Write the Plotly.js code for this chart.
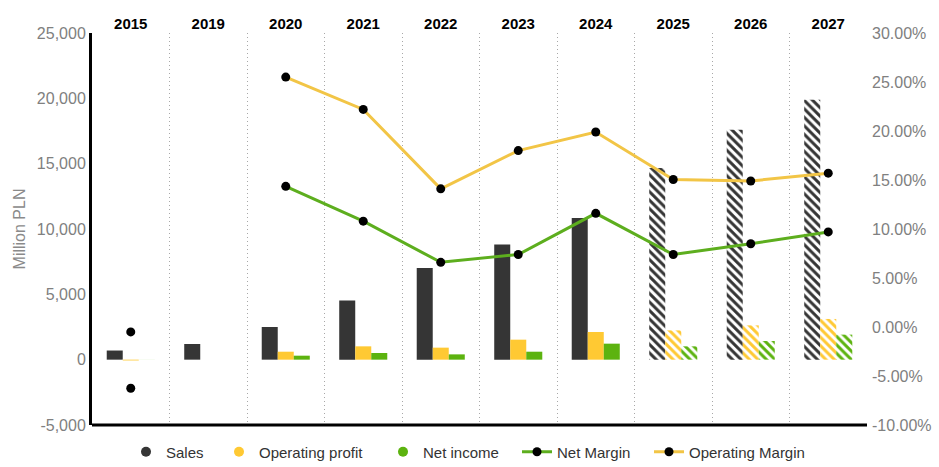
<!DOCTYPE html>
<html>
<head>
<meta charset="utf-8">
<script src="https://cdn.plot.ly/plotly-3.0.1.min.js"></script>
<style>
  html, body { margin: 0; padding: 0; background: #fff; }
  #chart { width: 939px; height: 467px; }
</style>
</head>
<body>
<div id="chart"></div>
<script>
// Years (2025+ are forecasts, drawn hatched)
const years = ['2015', '2019', '2020', '2021', '2022', '2023', '2024', '2025', '2026', '2027'];
const forecast = [false, false, false, false, false, false, false, true, true, true];

// Million PLN
const sales = [700, 1200, 2500, 4520, 7020, 8820, 10840, 14670, 17600, 19890];
const operatingProfit = [-60, null, 610, 1020, 920, 1530, 2120, 2240, 2625, 3115];
const netIncome = [-4, null, 305, 510, 405, 610, 1225, 1020, 1430, 1915];

// Percent
const netMargin = [-0.5, null, 14.35, 10.8, 6.6, 7.4, 11.6, 7.4, 8.5, 9.7];
const operatingMargin = [-6.25, null, 25.5, 22.2, 14.1, 18.0, 19.9, 15.05, 14.9, 15.7];

// Axis ticks
const leftTickVals = [-5000, 0, 5000, 10000, 15000, 20000, 25000];
const leftTickText = ['-5,000', '0', '5,000', '10,000', '15,000', '20,000', '25,000'];
const rightTickVals = [-10, -5, 0, 5, 10, 15, 20, 25, 30];
const rightTickText = ['-10.00%', '-5.00%', '0.00%', '5.00%', '10.00%', '15.00%', '20.00%', '25.00%', '30.00%'];

const C_SALES = '#353535';
const C_OP = '#ffc933';
const C_NET = '#5cb30f';
const C_OP_LINE = '#f2c546';
const C_NET_LINE = '#5dae1e';

const FONT = 'Liberation Sans, Arial, sans-serif';

// Plot box in pixels, used to place the legend entries along the bottom
const PLOT_L = 92, PLOT_R = 72, PLOT_T = 33, PLOT_B = 42;
const W = 939, H = 467;
const plotW = W - PLOT_L - PLOT_R;
const plotH = H - PLOT_T - PLOT_B;
const toPaperX = px => (px - PLOT_L) / plotW;
const legendY = -(452 - (H - PLOT_B)) / plotH;

function barTrace(name, values, color) {
  return {
    type: 'bar',
    name: name,
    x: years,
    y: values,
    yaxis: 'y',
    showlegend: false,
    hoverinfo: 'x+y+name',
    marker: {
      color: color,
      line: { width: 0 },
      pattern: {
        shape: forecast.map(f => (f ? '\\' : '')),
        fgcolor: color,
        bgcolor: '#ffffff',
        size: 6,
        solidity: 0.5
      }
    }
  };
}

function legendDot(name, color, legendId) {
  return {
    type: 'scatter',
    mode: 'markers',
    name: name,
    legend: legendId,
    x: [null],
    y: [null],
    yaxis: 'y',
    marker: { color: color, size: 10, symbol: 'circle' },
    hoverinfo: 'skip'
  };
}

function marginTrace(name, values, color, legendId) {
  return {
    type: 'scatter',
    mode: 'lines+markers',
    name: name,
    legend: legendId,
    x: years,
    y: values,
    yaxis: 'y2',
    connectgaps: false,
    line: { color: color, width: 3 },
    marker: { color: '#000', size: 9 }
  };
}

const data = [
  barTrace('Sales', sales, C_SALES),
  barTrace('Operating profit', operatingProfit, C_OP),
  barTrace('Net income', netIncome, C_NET),
  legendDot('Sales', C_SALES, 'legend'),
  legendDot('Operating profit', C_OP, 'legend2'),
  legendDot('Net income', C_NET, 'legend3'),
  marginTrace('Net Margin', netMargin, C_NET_LINE, 'legend4'),
  marginTrace('Operating Margin', operatingMargin, C_OP_LINE, 'legend5')
];

function legendAt(px) {
  return {
    orientation: 'h',
    x: toPaperX(px),
    xanchor: 'left',
    y: legendY,
    yanchor: 'middle',
    bgcolor: 'rgba(0,0,0,0)',
    borderwidth: 0,
    font: { family: FONT, size: 15, color: '#333' }
  };
}

const layout = {
  width: W,
  height: H,
  margin: { l: PLOT_L, r: PLOT_R, t: PLOT_T, b: PLOT_B, autoexpand: false },
  paper_bgcolor: '#fff',
  plot_bgcolor: '#fff',
  font: { family: FONT, color: '#333' },
  barmode: 'group',
  bargap: 0.38,
  bargroupgap: 0,
  showlegend: true,
  legend: legendAt(126),
  legend2: legendAt(219),
  legend3: legendAt(383),
  legend4: legendAt(517),
  legend5: legendAt(649),
  xaxis: {
    type: 'category',
    range: [-0.5, years.length - 0.5],
    autorange: false,
    side: 'top',
    tickson: 'boundaries',
    showgrid: true,
    griddash: '1px,3px',
    gridcolor: '#a8a8a8',
    gridwidth: 1,
    ticks: '',
    showline: false,
    zeroline: false,
    tickfont: { family: FONT, size: 15, color: '#000', weight: 'bold' },
    fixedrange: true
  },
  yaxis: {
    range: [-5000, 25000],
    tickvals: leftTickVals,
    ticktext: leftTickText,
    showgrid: false,
    zeroline: false,
    showline: true,
    linecolor: '#000',
    linewidth: 3,
    ticks: '',
    tickfont: { family: FONT, size: 16, color: '#808080' },
    title: { text: 'Million PLN', font: { family: FONT, size: 16, color: '#8a8a8a' }, standoff: 8 },
    fixedrange: true
  },
  yaxis2: {
    overlaying: 'y',
    side: 'right',
    range: [-10, 30],
    tickvals: rightTickVals,
    ticktext: rightTickText,
    showgrid: false,
    zeroline: false,
    showline: false,
    ticks: '',
    ticklabelstandoff: 4,
    tickfont: { family: FONT, size: 16, color: '#808080' },
    fixedrange: true
  },
  shapes: [
    {
      type: 'line', xref: 'paper', yref: 'paper',
      x0: 0, x1: 1, y0: 0, y1: 0,
      line: { color: '#000', width: 3 },
      layer: 'above'
    }
  ]
};

Plotly.newPlot('chart', data, layout, { displayModeBar: false, staticPlot: true });
</script>
</body>
</html>
